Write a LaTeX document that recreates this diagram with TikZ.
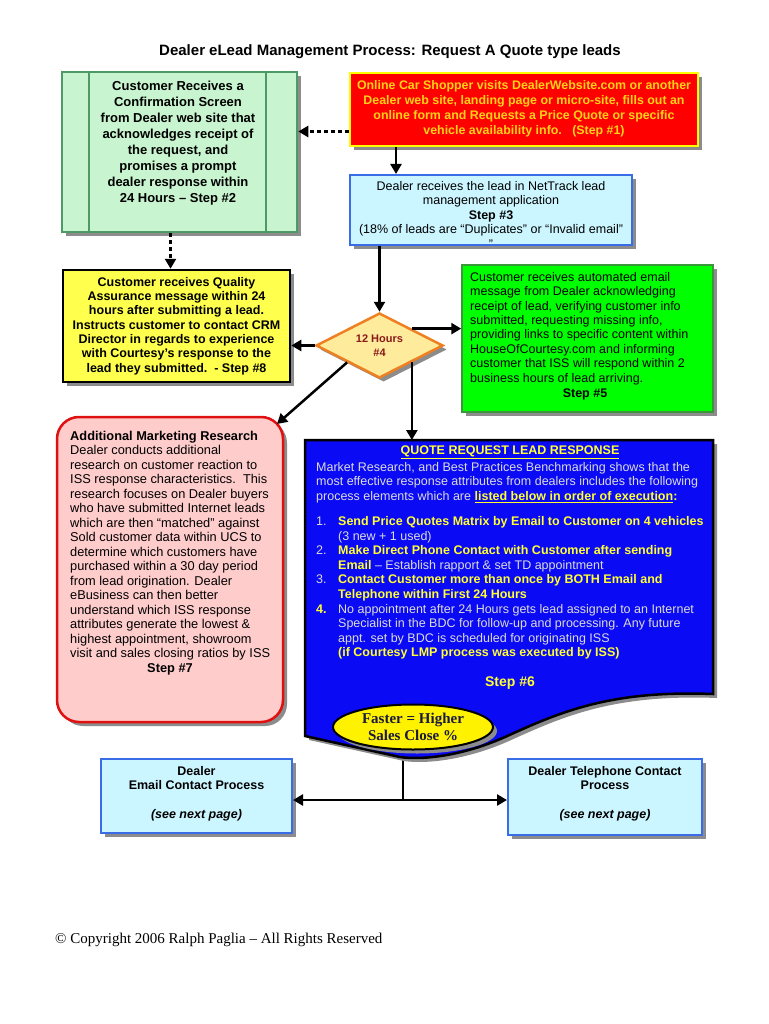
\documentclass[tikz,border=0pt]{standalone}
\usepackage{fontspec}
\setmainfont{Liberation Sans}
\newfontfamily\timesfont{Liberation Serif}
\usetikzlibrary{shapes.geometric,shadows,arrows.meta}
\definecolor{mint}{HTML}{C8F5CF}
\definecolor{mintborder}{HTML}{4E9A64}
\definecolor{redfill}{HTML}{FF0000}
\definecolor{goldtext}{HTML}{FFD21A}
\definecolor{yborder}{HTML}{FFFF00}
\definecolor{ltblue}{HTML}{CCF6FF}
\definecolor{bborder}{HTML}{3B6CE8}
\definecolor{yfill}{HTML}{FFFF4D}
\definecolor{dfill}{HTML}{FFEB9C}
\definecolor{dborder}{HTML}{EE8022}
\definecolor{dtext}{HTML}{8B1A1A}
\definecolor{brightgreen}{HTML}{00FF00}
\definecolor{gborder2}{HTML}{3C963C}
\definecolor{pinkfill}{HTML}{FFCCCC}
\definecolor{pinkborder}{HTML}{E01010}
\definecolor{docblue}{HTML}{0A0AF5}
\definecolor{doctext}{HTML}{DCDCDC}
\definecolor{docyellow}{HTML}{FFFF33}
\definecolor{shadowgray}{HTML}{8C8C8C}
\definecolor{navytext}{HTML}{1A1A40}
\newcommand\fsz[2]{\fontsize{#1}{#2}\selectfont}
\begin{document}
\begin{tikzpicture}[x=1pt,y=-1pt,
  shad/.style={drop shadow={shadow xshift=4pt,shadow yshift=-4pt,fill=shadowgray,opacity=1}},
  boxs/.style={rectangle,inner sep=0pt,shad},
  arr/.style={line width=2.5pt,-{Triangle[length=10pt,width=11pt]}},
  dotarr/.style={line width=3pt,dash pattern=on 3.5pt off 3.5pt,-{Triangle[length=10pt,width=11pt]}},
  txt/.style={inner sep=0pt,align=center}
]
\useasboundingbox[fill=white] (0,0) rectangle (768,1024);

% title
\node[txt,font=\bfseries\fsz{15}{17}] (title) at (390,52) {Dealer eLead Management Process: Request A Quote type leads};

% step 2
\node[boxs,fill=mint,draw=mintborder,line width=2.5pt,minimum width=235pt,minimum height=160pt] (s2) at (179.5,152) {};
\draw[mintborder,line width=2pt] ([xshift=28pt]s2.north west) -- ([xshift=28pt]s2.south west);
\draw[mintborder,line width=2pt] ([xshift=-32pt]s2.north east) -- ([xshift=-32pt]s2.south east);
\node[txt,anchor=north,font=\bfseries\fsz{13}{16}] (s2t) at (178,81) {Customer Receives a\\Confirmation Screen\\from Dealer web site that\\acknowledges receipt of\\the request, and\\promises a prompt\\dealer response within\\24 Hours – Step \#2};

% step 1
\node[boxs,fill=redfill,draw=yborder,line width=2.5pt,minimum width=348pt,minimum height=73pt] (s1) at (524,109.5) {};
\node[txt,anchor=north,text=goldtext,font=\bfseries\fsz{12.4}{15}] (s1t) at (524,80) {Online Car Shopper visits DealerWebsite.com or another\\Dealer web site, landing page or micro-site, fills out an\\online form and Requests a Price Quote or specific\\vehicle availability info.\ \ \ (Step \#1)};

% step 3
\node[boxs,fill=ltblue,draw=bborder,line width=2pt,minimum width=282pt,minimum height=70pt] (s3) at (491,210) {};
\node[txt,anchor=north,font=\fsz{12.5}{14.5}] (s3t) at (491,181) {Dealer receives the lead in NetTrack lead\\management application\\\textbf{Step \#3}\\(18\% of leads are “Duplicates” or “Invalid email”\\”};

% step 8
\node[boxs,fill=yfill,draw=black,line width=2.5pt,minimum width=227pt,minimum height=112pt] (s8) at (176.5,326) {};
\node[txt,anchor=north,font=\bfseries\fsz{12.5}{14.3}] (s8t) at (176.5,277) {Customer receives Quality\\Assurance message within 24\\hours after submitting a lead.\\Instructs customer to contact CRM\\Director in regards to experience\\with Courtesy’s response to the\\lead they submitted.\ \ - Step \#8};

% diamond
\node[diamond,aspect=2,inner sep=0pt,minimum width=127pt,minimum height=65pt,fill=dfill,draw=dborder,line width=2.5pt,shad,align=center,text=dtext,font=\bfseries\fsz{11}{14}] (d4) at (379.5,345.5) {12 Hours\\\#4};

% step 5
\node[boxs,fill=brightgreen,draw=gborder2,line width=1.5pt,minimum width=251pt,minimum height=147pt] (s5) at (587.5,338.5) {};
\node[anchor=north west,inner sep=0pt,align=left,font=\fsz{12.5}{14.4}] (s5t) at (470,272) {Customer receives automated email\\message from Dealer acknowledging\\receipt of lead, verifying customer info\\submitted, requesting missing info,\\providing links to specific content within\\HouseOfCourtesy.com and informing\\customer that ISS will respond within 2\\business hours of lead arriving.};
\node[txt,font=\bfseries\fsz{12.5}{14.4}] (s5s) at (585,394) {Step \#5};

% step 7
\node[boxs,rounded corners=22pt,fill=pinkfill,draw=pinkborder,line width=2.5pt,minimum width=226pt,minimum height=305pt] (s7) at (170,569.5) {};
\node[anchor=north west,inner sep=0pt,align=left,font=\fsz{12.8}{14.5}] (s7t) at (70,431) {\textbf{Additional Marketing Research}\\Dealer conducts additional\\research on customer reaction to\\ISS response characteristics.\ \ This\\research focuses on Dealer buyers\\who have submitted Internet leads\\which are then “matched” against\\Sold customer data within UCS to\\determine which customers have\\purchased within a 30 day period\\from lead origination. Dealer\\eBusiness can then better\\understand which ISS response\\attributes generate the lowest \&\\highest appointment, showroom\\visit and sales closing ratios by ISS};
\node[txt,font=\bfseries\fsz{12.8}{14.5}] (s7s) at (170,669) {Step \#7};
\coordinate (s7c) at (277,424);

% step 6 document shape
\coordinate (q6top) at (407,440);
\coordinate (q6bot) at (403,755);
\coordinate (j) at (403,800);
\draw[line width=2.5pt] (q6bot) -- (j);
\draw[fill=docblue,draw=black,line width=2.5pt,shad] (305,440) -- (713,440) -- (713,694)
  .. controls (610,690) and (560,712) .. (505,737)
  .. controls (460,757) and (420,760) .. (400,757) -- (305,736) -- cycle;
\node[txt,text=docyellow,font=\bfseries\fsz{12.5}{14.6}] (q6h) at (510,452) {\underline{QUOTE REQUEST LEAD RESPONSE}};
\node[anchor=north west,inner sep=0pt,align=left,text=doctext,font=\fsz{12.5}{14.6}] (q6t) at (316,462) {Market Research, and Best Practices Benchmarking shows that the\\
most effective response attributes from dealers includes the following\\
process elements which are \textcolor{docyellow}{\textbf{\underline{listed below in order of execution}:}}\\[10.5pt]
\makebox[22pt][l]{1.}\textcolor{docyellow}{\textbf{Send Price Quotes Matrix by Email to Customer on 4 vehicles}}\\
\hspace*{22pt}(3 new + 1 used)\\
\makebox[22pt][l]{2.}\textcolor{docyellow}{\textbf{Make Direct Phone Contact with Customer after sending}}\\
\hspace*{22pt}\textcolor{docyellow}{\textbf{Email}} – Establish rapport \& set TD appointment\\
\makebox[22pt][l]{3.}\textcolor{docyellow}{\textbf{Contact Customer more than once by BOTH Email and}}\\
\hspace*{22pt}\textcolor{docyellow}{\textbf{Telephone within First 24 Hours}}\\
\makebox[22pt][l]{\textcolor{docyellow}{\textbf{4.}}}No appointment after 24 Hours gets lead assigned to an Internet\\
\hspace*{22pt}Specialist in the BDC for follow-up and processing. Any future\\
\hspace*{22pt}appt. set by BDC is scheduled for originating ISS\\
\hspace*{22pt}\textcolor{docyellow}{\textbf{(if Courtesy LMP process was executed by ISS)}}};
\node[txt,text=docyellow,font=\bfseries\fsz{14}{16}] (q6s) at (510,683) {Step \#6};
\node[ellipse,inner sep=0pt,minimum width=160pt,minimum height=45pt,fill=yellow,draw=black,line width=2pt,shad,align=center,text=navytext,font=\timesfont\bfseries\fsz{15}{17}] (fh) at (413,727) {Faster = Higher\\Sales Close \%};

% bottom boxes
\node[boxs,fill=ltblue,draw=bborder,line width=2pt,minimum width=191pt,minimum height=74pt] (em) at (196.5,796) {};
\node[txt,anchor=north,font=\bfseries\fsz{12.5}{14.4}] (emt) at (196.5,766) {Dealer\\Email Contact Process\\[14.4pt]\textit{(see next page)}};
\node[boxs,fill=ltblue,draw=bborder,line width=2pt,minimum width=194pt,minimum height=76pt] (tel) at (605,797) {};
\node[txt,anchor=north,font=\bfseries\fsz{12.5}{14.4}] (telt) at (605,766) {Dealer Telephone Contact\\Process\\[14.4pt]\textit{(see next page)}};

% connectors
\draw[dotarr] ([yshift=-22pt]s1.west) -- ([yshift=-22pt]s1.west -| s2.east);
\draw[arr] ([xshift=-128pt]s1.south) -- ([xshift=-128pt]s1.south |- s3.north);
\draw[dotarr] ([xshift=-9pt]s2.south) -- ([xshift=-9pt]s2.south |- s8.north);
\draw[arr] (s3.south -| d4.north) -- (d4.north);
\draw[arr] (d4.west) -- (d4.west -| s8.east);
\draw[arr] (d4.north east) -- (d4.north east -| s5.west);
\draw[arr] (d4.south west) -- (s7c);
\draw[arr] (d4.south east) -- (d4.south east |- q6top);
\draw[line width=2.5pt,{Triangle[length=10pt,width=11pt]}-{Triangle[length=10pt,width=11pt]}] (em.east |- j) -- (tel.west |- j);

% copyright
\node[anchor=west,inner sep=0pt,font=\timesfont\fsz{15}{17}] (cr) at (55,940) {© Copyright 2006 Ralph Paglia – All Rights Reserved};
\end{tikzpicture}
\end{document}
